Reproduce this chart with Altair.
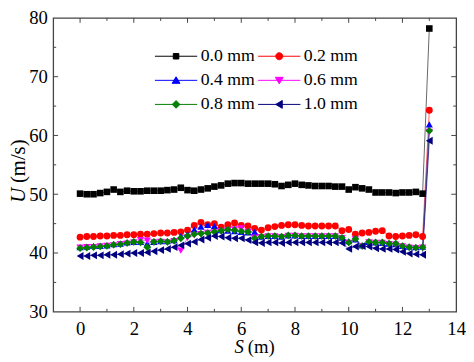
import altair as alt
import pandas as pd

# ---------------- data ----------------
S = [0.0, 0.25, 0.5, 0.75, 1.0, 1.25, 1.5, 1.75, 2.0, 2.25, 2.5, 2.75, 3.0, 3.25, 3.5, 3.75,
     4.0, 4.25, 4.5, 4.75, 5.0, 5.25, 5.5, 5.75, 6.0, 6.25, 6.5, 6.75, 7.0, 7.25, 7.5, 7.75,
     8.0, 8.25, 8.5, 8.75, 9.0, 9.25, 9.5, 9.75, 10.0, 10.25, 10.5, 10.75, 11.0, 11.25, 11.5,
     11.75, 12.0, 12.25, 12.5, 12.75, 13.0]

U_00 = [50.1, 50.0, 50.0, 50.2, 50.4, 50.8, 50.4, 50.6, 50.5, 50.5, 50.6, 50.6, 50.6, 50.7, 50.8, 51.1,
        50.7, 50.6, 50.8, 51.0, 51.3, 51.5, 51.8, 51.9, 51.9, 51.8, 51.8, 51.8, 51.8, 51.7, 51.4, 51.6,
        51.8, 51.6, 51.5, 51.4, 51.4, 51.4, 51.3, 51.3, 50.8, 51.2, 51.0, 50.8, 50.3, 50.3, 50.3,
        50.2, 50.3, 50.3, 50.4, 50.1, 78.2]
U_02 = [42.7, 42.8, 42.8, 42.9, 42.9, 43.0, 43.0, 43.1, 43.1, 43.2, 43.2, 43.3, 43.4, 43.4, 43.5, 43.6,
        43.9, 44.7, 45.2, 44.8, 45.0, 44.4, 44.8, 45.1, 44.7, 44.6, 44.2, 43.9, 44.3, 44.5, 44.7, 44.8,
        44.8, 44.7, 44.6, 44.6, 44.6, 44.6, 44.6, 43.8, 44.0, 43.2, 43.4, 43.5, 43.7, 43.8, 42.9,
        42.8, 42.9, 43.0, 43.1, 42.8, 64.3]
U_04 = [41.0, 41.1, 41.2, 41.2, 41.3, 41.5, 41.6, 41.8, 41.9, 41.9, 41.6, 41.9, 42.0, 42.0, 42.2, 42.9,
        43.2, 44.0, 44.5, 44.8, 44.6, 43.9, 43.8, 43.7, 43.6, 43.5, 43.6, 42.8, 42.9, 42.9, 42.8, 43.0,
        43.0, 42.9, 42.9, 42.9, 42.9, 42.9, 42.9, 42.6, 42.0, 42.3, 41.3, 41.9, 41.8, 41.7, 41.6,
        41.5, 41.2, 41.1, 41.0, 41.1, 61.9]
U_06 = [40.9, 41.0, 41.0, 41.1, 41.2, 41.3, 41.5, 41.6, 41.8, 42.2, 42.1, 41.8, 41.9, 41.8, 42.0, 40.4,
        42.6, 43.0, 43.2, 43.4, 43.5, 43.7, 43.9, 44.0, 44.2, 43.6, 42.6, 42.7, 42.8, 42.8, 42.7, 42.9,
        42.9, 42.8, 42.8, 42.8, 42.8, 42.8, 42.8, 42.5, 41.7, 42.3, 41.1, 41.8, 41.7, 41.7, 41.5,
        41.4, 41.1, 40.9, 40.8, 40.9, 60.6]
U_08 = [40.8, 40.9, 41.0, 41.1, 41.2, 41.4, 41.5, 41.7, 41.9, 41.8, 41.0, 41.9, 42.0, 41.9, 42.1, 42.5,
        42.9, 43.2, 43.3, 43.4, 43.6, 43.8, 44.0, 43.9, 43.7, 43.6, 42.5, 42.8, 42.9, 42.9, 42.8, 43.0,
        43.0, 42.9, 42.9, 42.9, 42.9, 42.9, 42.9, 42.6, 41.8, 42.4, 41.2, 41.9, 41.8, 41.8, 41.6,
        41.6, 41.2, 41.0, 40.9, 41.0, 60.8]
U_10 = [39.5, 39.5, 39.6, 39.6, 39.7, 39.7, 39.8, 39.9, 40.0, 40.0, 40.1, 40.3, 40.5, 40.7, 41.0, 41.3,
        41.6, 41.9, 42.3, 42.6, 42.9, 42.8, 42.6, 42.5, 42.5, 42.2, 41.8, 41.7, 41.8, 41.8, 41.7, 41.8,
        41.8, 41.8, 41.8, 41.8, 41.8, 41.8, 41.8, 41.7, 40.7, 41.1, 41.2, 41.1, 40.8, 40.7, 40.7,
        40.6, 40.2, 39.9, 39.8, 39.7, 59.1]

series = ["0.0 mm", "0.2 mm", "0.4 mm", "0.6 mm", "0.8 mm", "1.0 mm"]
values = [U_00, U_02, U_04, U_06, U_08, U_10]
colors = ["#000000", "#ff0000", "#0000ff", "#ff00ff", "#008000", "#000080"]
shapes = ["square", "circle", "triangle-up", "triangle-down", "diamond", "triangle-left"]
sizes = [45, 64, 85, 85, 80, 85]
# legend glyphs: a line with the marker on it (unit = symbol radius of 8.5 px)
legend_paths = [
    "M-2.53,0H2.53M-0.33,-0.33H0.33V0.33H-0.33Z",
    "M-2.53,0H2.53M0.42,0A0.42,0.42 0 1,1 -0.42,0A0.42,0.42 0 1,1 0.42,0Z",
    "M-2.53,0H2.53M0,-0.42L0.47,0.36H-0.47Z",
    "M-2.53,0H2.53M0,0.42L0.47,-0.36H-0.47Z",
    "M-2.53,0H2.53M0,-0.46L0.46,0L0,0.46L-0.46,0Z",
    "M-2.53,0H2.53M-0.42,0L0.36,-0.47V0.47Z",
]

x_labels = [0, 2, 4, 6, 8, 10, 12, 14]
y_labels = [30, 40, 50, 60, 70, 80]
x_major = [0, 2, 4, 6, 8, 10, 12]
x_minor = [1, 3, 5, 7, 9, 11, 13]
y_major = [40, 50, 60, 70]
y_minor = [35, 45, 55, 65, 75]

rows = []
for name, vals in zip(series, values):
    for s, u in zip(S, vals):
        rows.append({"S": s, "U": u, "series": name})
df = pd.DataFrame(rows)

W, H = 410, 299
FONT = "Liberation Serif"

xscale = alt.Scale(domain=[-1, 14], nice=False, zero=False)
yscale = alt.Scale(domain=[30, 80], nice=False, zero=False)
x_enc = alt.X("S:Q", scale=xscale, axis=alt.Axis(values=x_labels, title=None, labelFlush=False,
                                                  labelOverlap=False, labelPadding=8))
y_enc = alt.Y("U:Q", scale=yscale, axis=alt.Axis(values=y_labels, title=None, labelFlush=False,
                                                  labelOverlap=False, labelPadding=6))

color_scale = alt.Scale(domain=series, range=colors)

lines = alt.Chart(df).mark_line(strokeWidth=0.8, opacity=0.75).encode(
    x=x_enc, y=y_enc,
    color=alt.Color("series:N", scale=color_scale, legend=None),
    detail="series:N",
)

points = alt.Chart(df).mark_point(filled=True, opacity=1).encode(
    x=x_enc, y=y_enc,
    color=alt.Color("series:N", scale=color_scale, legend=None),
    shape=alt.Shape("series:N", scale=alt.Scale(domain=series, range=shapes), legend=None),
    size=alt.Size("series:N", scale=alt.Scale(domain=series, range=sizes), legend=None),
)

leg = alt.Legend(title=None, orient="none", legendX=116, legendY=30, columns=2, direction="horizontal",
                 columnPadding=0, rowPadding=6.5, symbolSize=289, symbolStrokeWidth=1,
                 labelFont=FONT, labelFontSize=18, labelColor="black", labelOffset=16)

legend_layer = alt.Chart(df).transform_filter("false").mark_point(filled=True, opacity=1).encode(
    x=x_enc, y=y_enc,
    color=alt.Color("series:N", scale=color_scale, legend=leg),
    stroke=alt.Stroke("series:N", scale=alt.Scale(domain=series, range=colors), legend=leg),
    shape=alt.Shape("series:N", scale=alt.Scale(domain=series, range=legend_paths), legend=leg),
)

TICK_COLOR = "#444444"

def xticks(vals, length):
    d = pd.DataFrame({"S": vals})
    bottom = alt.Chart(d).mark_rule(color=TICK_COLOR, strokeWidth=1).encode(
        x=x_enc, y=alt.value(H), y2=alt.value(H - length))
    top = alt.Chart(d).mark_rule(color=TICK_COLOR, strokeWidth=1).encode(
        x=x_enc, y=alt.value(0), y2=alt.value(length))
    return [bottom, top]

def yticks(vals, length):
    d = pd.DataFrame({"U": vals})
    left = alt.Chart(d).mark_rule(color=TICK_COLOR, strokeWidth=1).encode(
        y=y_enc, x=alt.value(0), x2=alt.value(length))
    right = alt.Chart(d).mark_rule(color=TICK_COLOR, strokeWidth=1).encode(
        y=y_enc, x=alt.value(W), x2=alt.value(W - length))
    return [left, right]

ticks = xticks(x_major, 5) + xticks(x_minor, 3) + yticks(y_major, 5) + yticks(y_minor, 3)

def label(txt, x, y, align, size=19, italic=False, angle=0):
    kw = dict(font=FONT, fontSize=size, color="black", align=align, baseline="alphabetic")
    if italic:
        kw["fontStyle"] = "italic"
    if angle:
        kw["angle"] = angle
    return alt.Chart(pd.DataFrame({"t": [txt]})).mark_text(**kw).encode(
        x=alt.value(x), y=alt.value(y), text="t:N")

titles = [
    label("S", 194, H + 42, "right", italic=True),
    label("(m)", 198, H + 42, "left"),
    label("U", -29, 173, "right", size=21, italic=True, angle=270),
    label("(m/s)", -29, 168, "left", size=21, angle=270),
]

chart = alt.layer(lines, points, legend_layer, *ticks, *titles).resolve_scale(
    color="independent", shape="independent", stroke="independent", size="independent"
).properties(
    width=W, height=H, background="white",
    padding={"left": 46, "top": 7, "right": 10, "bottom": 48},
    autosize=alt.AutoSizeParams(type="none"),
).configure_view(
    stroke="#444444", strokeWidth=1.3
).configure_axis(
    domain=False, ticks=False, grid=False,
    labelFont=FONT, labelFontSize=19, labelColor="black",
)

chart.save("out.html", embed_options={"renderer": "svg", "actions": False})
